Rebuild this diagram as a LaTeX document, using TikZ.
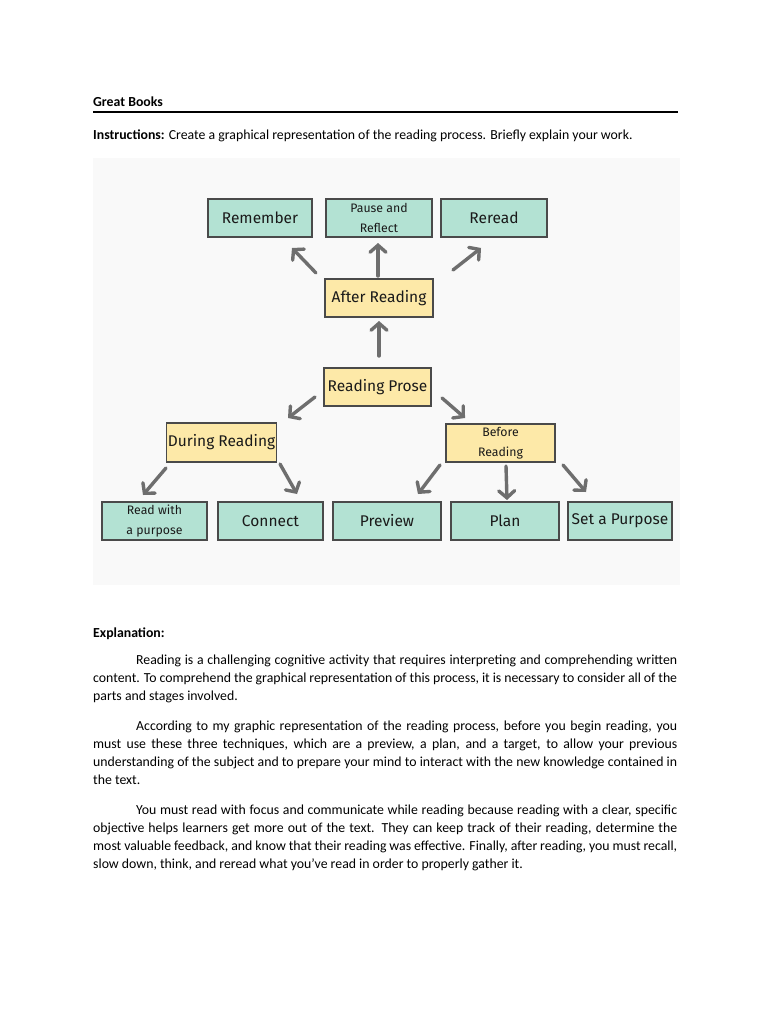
\documentclass[tikz,border=0pt]{standalone}
\usepackage{fontspec}
\setmainfont{Carlito}
\newfontfamily\hand{Fira Sans}
\usetikzlibrary{arrows.meta}
\definecolor{teal}{HTML}{B3E2D3}
\definecolor{yel}{HTML}{FDE9A8}
\definecolor{bord}{HTML}{4A4A4A}
\definecolor{arrc}{HTML}{6E6E6E}
\definecolor{bg}{HTML}{F9F9F9}
\definecolor{ink}{HTML}{1A1A1A}
\newcommand{\bodyfont}{\fontsize{13.8}{18.2}\selectfont}
\tikzset{
  box/.style={draw=bord, line width=1.1pt, minimum height=38pt, inner sep=1pt, align=center, text=ink, font=\hand\fontsize{15.5}{17}\selectfont},
  tbox/.style={box, fill=teal},
  ybox/.style={box, fill=yel},
  smalltxt/.style={font=\hand\fontsize{12.3}{20}\selectfont},
  arr/.style={draw=arrc, line width=3.4pt, line cap=round, -{Straight Barb[length=7pt,width=16pt,line cap=round]}},
}
\begin{document}
\begin{tikzpicture}[x=1pt,y=-1pt]
\useasboundingbox (0,0) rectangle (768,1024);
\fill[white] (0,0) rectangle (768,1024);
% header
\node[anchor=base west, inner sep=0, font=\bodyfont\bfseries] (title) at (93,107) {Great Books};
\draw[line width=1.8pt] (93,112) -- (678,112);
\node[anchor=base west, inner sep=0, font=\bodyfont] (instr) at (93,140) {\textbf{Instructions:} Create a graphical representation of the reading process. Briefly explain your work.};
% diagram background
\fill[bg] (93,158) rectangle (680,585);
% nodes
\node[tbox, minimum width=104pt] (remember) at (260,218) {Remember};
\node[tbox, minimum width=106pt, smalltxt] (pause) at (379,218) {Pause and\\Reflect};
\node[tbox, minimum width=106pt] (reread) at (494,218) {Reread};
\node[ybox, minimum width=108pt] (after) at (379,298) {After Reading};
\node[ybox, minimum width=107pt] (prose) at (377.5,387) {Reading Prose};
\node[ybox, minimum width=109pt, minimum height=39pt] (during) at (221.5,442.5) {During Reading};
\node[ybox, minimum width=109pt, smalltxt] (before) at (500.5,443) {Before\\Reading};
\node[tbox, minimum width=105pt, smalltxt] (readwith) at (154.5,521) {Read with\\a purpose};
\node[tbox, minimum width=105pt] (connect) at (270.5,521) {Connect};
\node[tbox, minimum width=108pt] (preview) at (387,521) {Preview};
\node[tbox, minimum width=108pt] (plan) at (505,521) {Plan};
\node[tbox, minimum width=104pt] (setp) at (620,521) {Set a Purpose};
% arrows
\draw[arr] ([shift={(-63,-25)}]after.center) -- ([shift={(32,30)}]remember.center);
\draw[arr] ([shift={(-1,-22)}]after.center) -- ([shift={(-1,25)}]pause.center);
\draw[arr] ([shift={(74,-28)}]after.center) -- ([shift={(-13,30)}]reread.center);
\draw[arr] ([shift={(1.5,-31)}]prose.center) -- ([shift={(0,23)}]after.center);
\draw[arr] ([shift={(-62.5,10)}]prose.center) -- ([shift={(66.5,-24.5)}]during.center);
\draw[arr] ([shift={(64.5,11)}]prose.center) -- ([shift={(-35.5,-25)}]before.center);
\draw[arr] ([shift={(-55.5,25.5)}]during.center) -- ([shift={(-11.5,-26)}]readwith.center);
\draw[arr] ([shift={(58.5,21.5)}]during.center) -- ([shift={(26.5,-27)}]connect.center);
\draw[arr] ([shift={(-60.5,22)}]before.center) -- ([shift={(31,-27)}]preview.center);
\draw[arr] ([shift={(5.5,23)}]before.center) -- ([shift={(2,-21)}]plan.center);
\draw[arr] ([shift={(62.5,22)}]before.center) -- ([shift={(-34,-29)}]setp.center);
% explanation
\node[anchor=base west, inner sep=0, font=\bodyfont\bfseries] (explh) at (93,637) {Explanation:};
\node[anchor=north west, inner sep=0, text width=584pt, align=justify, font=\bodyfont] (expl) at (93,654.5) {%
\hspace*{43pt}Reading is a challenging cognitive activity that requires interpreting and comprehending written\linebreak
content. To comprehend the graphical representation of this process, it is necessary to consider all of the\linebreak
parts and stages involved.\par\vspace{11.2pt}
\hspace*{43pt}According to my graphic representation of the reading process, before you begin reading, you\linebreak
must use these three techniques, which are a preview, a plan, and a target, to allow your previous\linebreak
understanding of the subject and to prepare your mind to interact with the new knowledge contained in\linebreak
the text.\par\vspace{11.2pt}
\hspace*{43pt}You must read with focus and communicate while reading because reading with a clear, specific\linebreak
objective helps learners get more out of the text. They can keep track of their reading, determine the\linebreak
most valuable feedback, and know that their reading was effective. Finally, after reading, you must recall,\linebreak
slow down, think, and reread what you’ve read in order to properly gather it.};
\end{tikzpicture}
\end{document}
